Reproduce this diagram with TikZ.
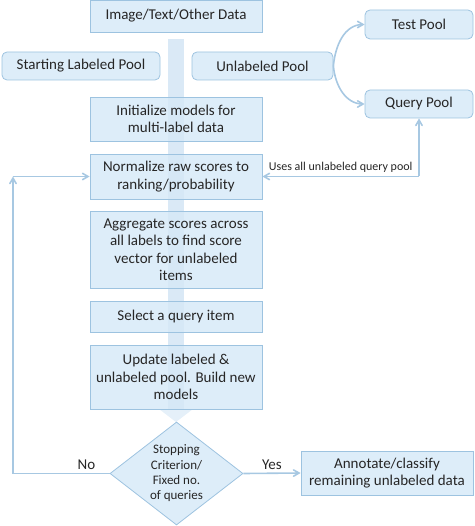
\documentclass[tikz,border=0pt]{standalone}
\usepackage{fontspec}
\setmainfont{Carlito}
\usetikzlibrary{shapes.geometric, arrows}
\definecolor{boxfill}{HTML}{D5E8F7}
\definecolor{boxline}{HTML}{9DC3E0}
\definecolor{flow}{HTML}{A7C8E2}
\definecolor{band}{HTML}{DAE9F6}
\tikzset{>=angle 60,
every node/.style={font=\fontsize{15}{17.5}\selectfont, text=black!85},
stage/.style={draw=boxline, fill=boxfill, fill opacity=0.8, text opacity=1, line width=0.8pt, align=center, minimum width=172pt, inner sep=0pt},
pool/.style={stage, rounded corners=5pt},
flowline/.style={->, draw=flow, line width=1.6pt},
}

\begin{document}
\begin{tikzpicture}
    \useasboundingbox (0,0) rectangle (474pt,-526pt);
    \fill[band] (168pt,-39pt) rectangle (184pt,-409pt);
    \fill[band, opacity=0.7] (159pt,-409pt) -- (193pt,-409pt) -- (176pt,-422pt) -- cycle;

    \node[stage, minimum height=32pt, xshift=176pt, yshift=-16pt] (data) {Image/Text/Other Data};
    \node[pool, minimum width=158pt, minimum height=28pt, xshift=81pt, yshift=-66pt] (labeled) {Starting Labeled Pool};
    \node[pool, minimum width=141pt, minimum height=28pt, xshift=262.5pt, yshift=-66pt] (unlabeled) {Unlabeled Pool};
    \node[pool, minimum width=108pt, minimum height=29pt, xshift=419pt, yshift=-24.5pt] (test) {Test Pool};
    \node[pool, minimum width=108pt, minimum height=28pt, xshift=419pt, yshift=-104pt] (query) {Query Pool};
    \node[stage, minimum height=44pt, xshift=176pt, yshift=-119pt] (init) {Initialize models for\\multi-label data};
    \node[stage, minimum height=45pt, xshift=176pt, yshift=-176.5pt] (norm) {Normalize raw scores to\\ranking/probability};
    \node[stage, minimum height=77pt, xshift=176pt, yshift=-249.5pt] (aggr) {Aggregate scores across\\all labels to find score\\vector for unlabeled\\items};
    \node[stage, minimum height=31pt, xshift=176pt, yshift=-316.5pt] (select) {Select a query item};
    \node[stage, minimum height=64pt, xshift=176pt, yshift=-377pt] (update) {Update labeled \&\\unlabeled pool. Build new\\models};
    \node[stage, diamond, aspect=1.3, minimum width=133pt, minimum height=103pt, xshift=176.5pt, yshift=-473.5pt,
          font=\fontsize{13}{15.3}\selectfont] (stop) {Stopping\\Criterion/\\Fixed no.\\of queries};
    \node[stage, minimum height=44pt, xshift=387pt, yshift=-473pt] (annot) {Annotate/classify\\remaining unlabeled data};

    \coordinate (back) at (13pt,-176.5pt);
    \coordinate (qback) at (419pt,-176.5pt);

    \draw[flowline] (unlabeled.east) to[out=85, in=180] (test.west);
    \draw[flowline] (unlabeled.east) to[out=-85, in=180] (query.west);
    \draw[flowline] (qback) -- (query.south);
    \draw[flowline] (qback) -- node[above, font=\fontsize{12}{14}\selectfont]{Uses all unlabeled query pool} (norm.east);
    \draw[flowline] (stop.west) -| node[above, pos=0.12]{No} (back);
    \draw[flowline] (back) -- (norm.west);
    \draw[flowline] (stop.east) -- node[above]{Yes} (annot.west);
\end{tikzpicture}
\end{document}
